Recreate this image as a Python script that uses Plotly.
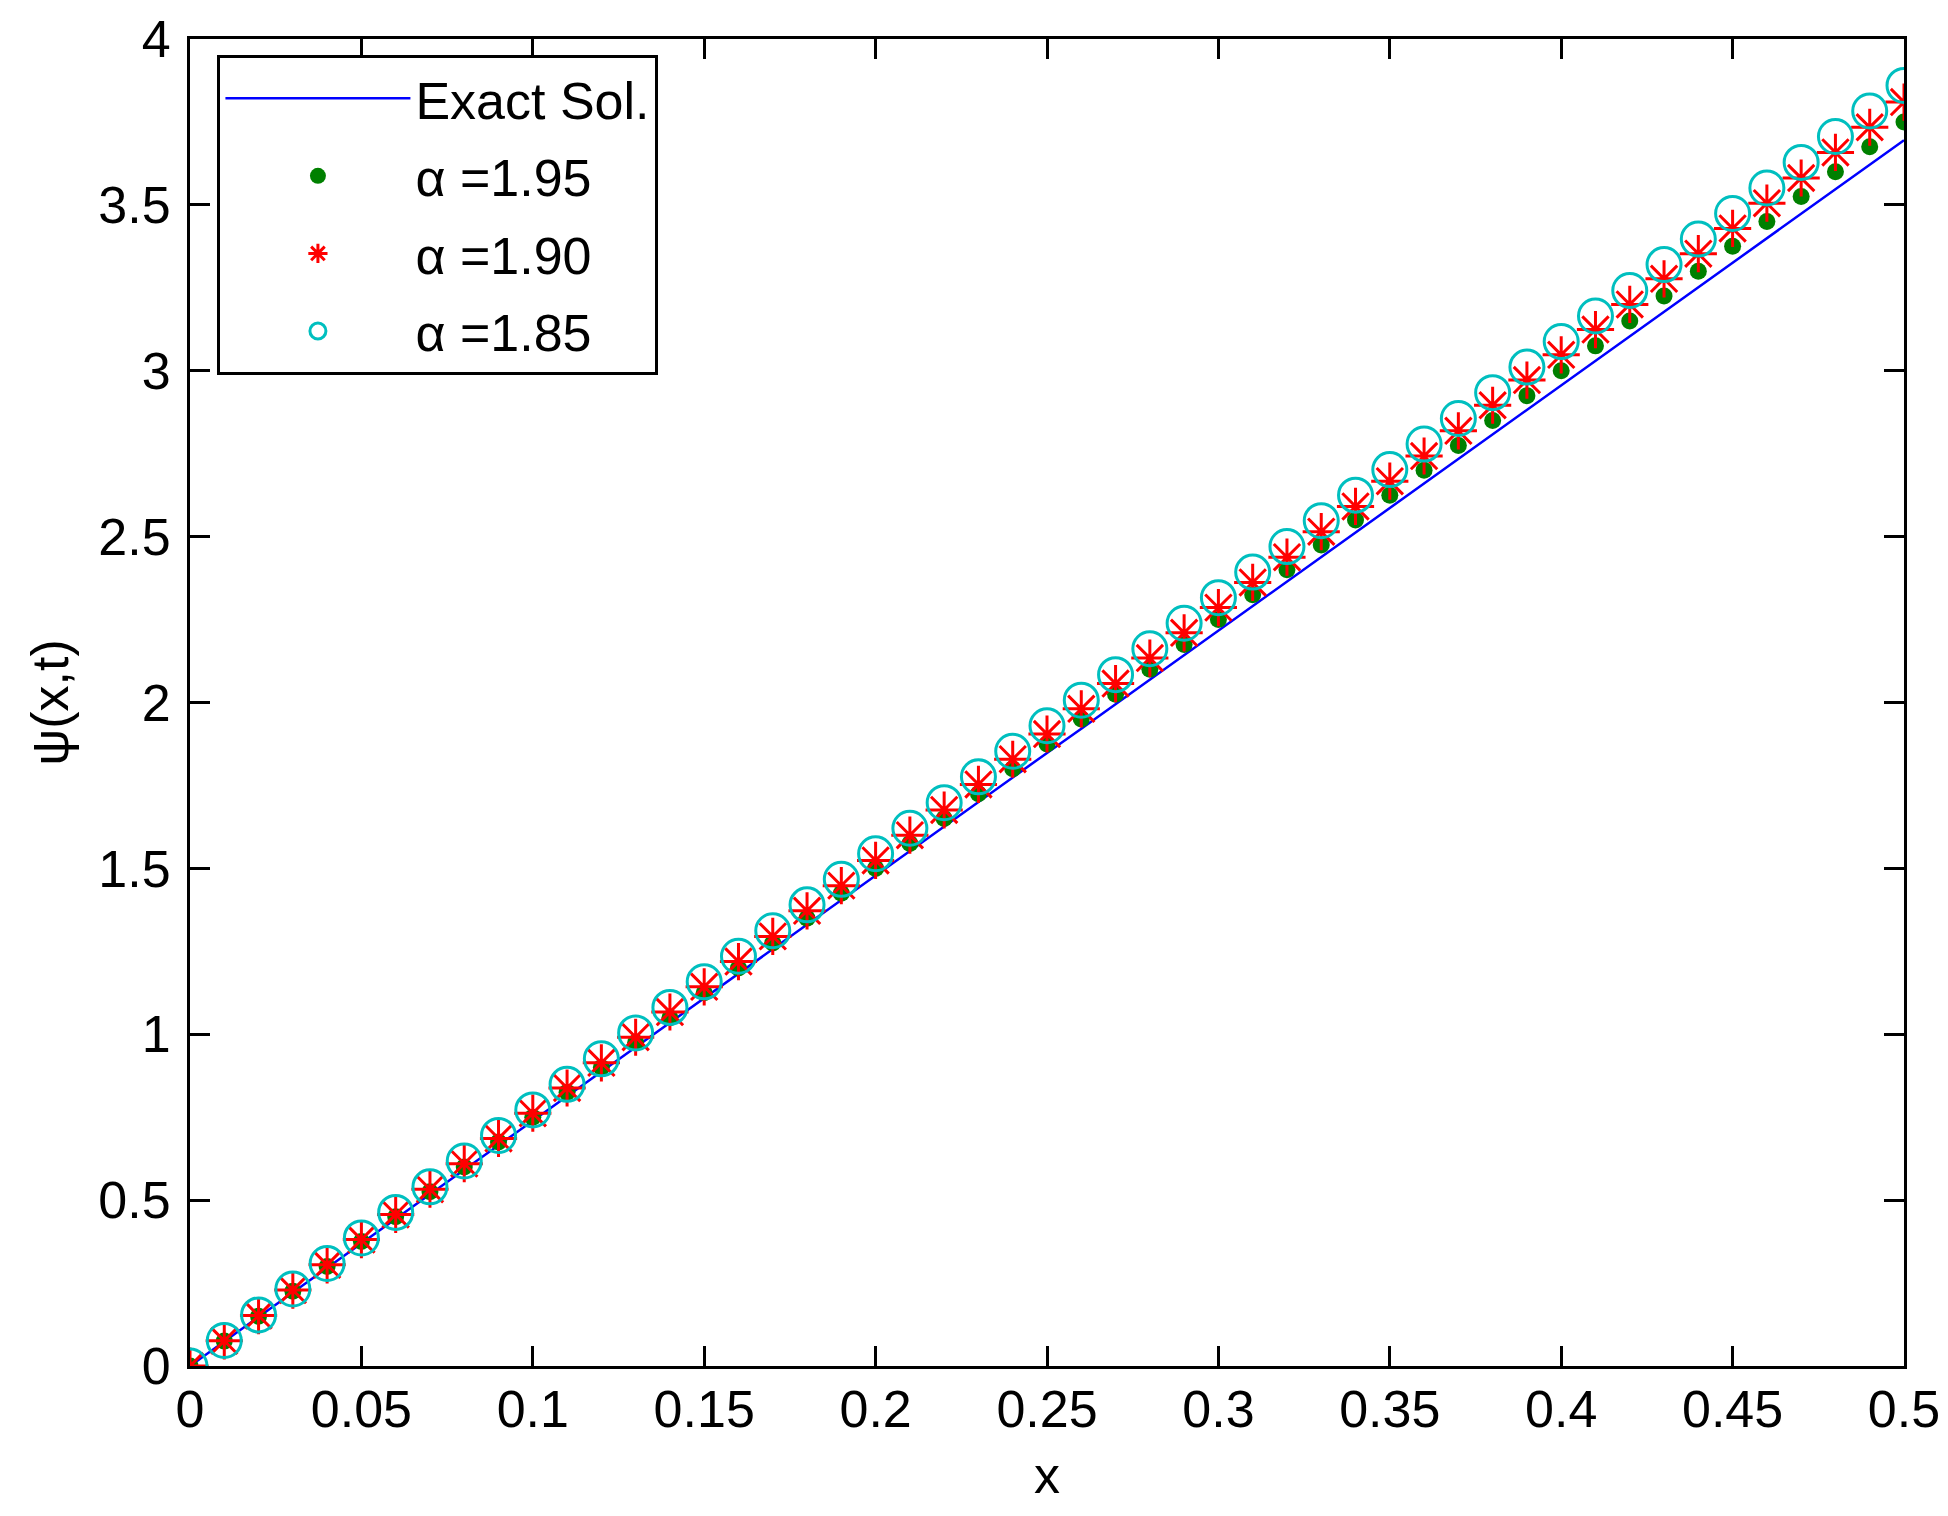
import plotly.graph_objects as go

# x grid of the numerical solution
x_vals = [0.00, 0.01, 0.02, 0.03, 0.04, 0.05, 0.06, 0.07, 0.08, 0.09,
          0.10, 0.11, 0.12, 0.13, 0.14, 0.15, 0.16, 0.17, 0.18, 0.19,
          0.20, 0.21, 0.22, 0.23, 0.24, 0.25, 0.26, 0.27, 0.28, 0.29,
          0.30, 0.31, 0.32, 0.33, 0.34, 0.35, 0.36, 0.37, 0.38, 0.39,
          0.40, 0.41, 0.42, 0.43, 0.44, 0.45, 0.46, 0.47, 0.48, 0.49, 0.50]

# values
exact_sol = [0.000, 0.074, 0.148, 0.222, 0.296, 0.370, 0.443, 0.517, 0.591, 0.665,
             0.739, 0.813, 0.887, 0.961, 1.035, 1.109, 1.182, 1.256, 1.330, 1.404,
             1.478, 1.552, 1.626, 1.700, 1.774, 1.848, 1.921, 1.995, 2.069, 2.143,
             2.217, 2.291, 2.365, 2.439, 2.513, 2.587, 2.660, 2.734, 2.808, 2.882,
             2.956, 3.030, 3.104, 3.178, 3.252, 3.326, 3.399, 3.473, 3.547, 3.621, 3.695]

alpha_195 = [0.000, 0.075, 0.150, 0.225, 0.300, 0.375, 0.450, 0.525, 0.600, 0.675,
             0.750, 0.825, 0.900, 0.975, 1.050, 1.125, 1.200, 1.275, 1.350, 1.425,
             1.500, 1.575, 1.650, 1.725, 1.800, 1.875, 1.950, 2.025, 2.100, 2.175,
             2.250, 2.325, 2.400, 2.475, 2.550, 2.625, 2.700, 2.775, 2.850, 2.925,
             3.000, 3.075, 3.150, 3.225, 3.300, 3.375, 3.450, 3.525, 3.600, 3.675, 3.750]

alpha_190 = [0.000, 0.076, 0.152, 0.229, 0.305, 0.381, 0.457, 0.533, 0.610, 0.686,
             0.762, 0.838, 0.914, 0.991, 1.067, 1.143, 1.219, 1.295, 1.372, 1.448,
             1.524, 1.600, 1.676, 1.753, 1.829, 1.905, 1.981, 2.057, 2.134, 2.210,
             2.286, 2.362, 2.438, 2.515, 2.591, 2.667, 2.743, 2.819, 2.896, 2.972,
             3.048, 3.124, 3.200, 3.277, 3.353, 3.429, 3.505, 3.581, 3.658, 3.734, 3.810]

alpha_185 = [0.000, 0.077, 0.154, 0.232, 0.309, 0.386, 0.463, 0.540, 0.618, 0.695,
             0.772, 0.849, 0.926, 1.004, 1.081, 1.158, 1.235, 1.312, 1.390, 1.467,
             1.544, 1.621, 1.698, 1.776, 1.853, 1.930, 2.007, 2.084, 2.162, 2.239,
             2.316, 2.393, 2.470, 2.548, 2.625, 2.702, 2.779, 2.856, 2.934, 3.011,
             3.088, 3.165, 3.242, 3.320, 3.397, 3.474, 3.551, 3.628, 3.706, 3.783, 3.860]

x_ticks = [0, 0.05, 0.1, 0.15, 0.2, 0.25, 0.3, 0.35, 0.4, 0.45, 0.5]
x_ticklabels = ["0", "0.05", "0.1", "0.15", "0.2", "0.25", "0.3", "0.35", "0.4", "0.45", "0.5"]
y_ticks = [0, 0.5, 1, 1.5, 2, 2.5, 3, 3.5, 4]
y_ticklabels = ["0", "0.5", "1", "1.5", "2", "2.5", "3", "3.5", "4"]

FONT = "Liberation Sans, Arial, sans-serif"

fig = go.Figure()
fig.add_trace(go.Scatter(x=x_vals, y=exact_sol, mode="lines", name="Exact Sol.",
                         line=dict(color="#0000FF", width=2.5), legendgroup="a"))
fig.add_trace(go.Scatter(x=x_vals, y=alpha_195, mode="markers", name="α =1.95",
                         marker=dict(symbol="circle", size=17, color="#008000"),
                         legendgroup="b"))
fig.add_trace(go.Scatter(x=x_vals, y=alpha_190, mode="markers", name="α =1.90",
                         marker=dict(symbol="asterisk-open", size=31, color="#FF0000",
                                     line=dict(color="#FF0000", width=3)),
                         legendgroup="c"))
fig.add_trace(go.Scatter(x=x_vals, y=alpha_185, mode="markers", name="α =1.85",
                         marker=dict(symbol="circle-open", size=34, color="#00BFBF",
                                     line=dict(color="#00BFBF", width=3)),
                         legendgroup="d"))

axis_style = dict(showline=True, linewidth=3, linecolor="black", mirror="ticks",
                  ticks="inside", ticklen=20, tickwidth=3, tickcolor="black",
                  showgrid=False, zeroline=False, automargin=False,
                  ticklabeloverflow="allow",
                  tickfont=dict(family=FONT, size=52, color="black"))

fig.update_xaxes(range=[0, 0.5], tickvals=x_ticks, ticktext=x_ticklabels,
                 ticklabelstandoff=-4,
                 title=dict(text="x", font=dict(family=FONT, size=52, color="black"),
                            standoff=20),
                 **axis_style)
fig.update_yaxes(range=[0, 4], tickvals=y_ticks, ticktext=y_ticklabels,
                 ticklabelstandoff=6,
                 title=dict(text="ψ(x,t)", font=dict(family=FONT, size=52, color="black"),
                            standoff=14),
                 **axis_style)

# page body has an 8px margin, so the figure is a bit smaller than the window;
# top margin leaves room for the "4" label
fig.update_layout(
    width=1940, height=1508,
    margin=dict(l=182, r=44, t=31, b=150),
    paper_bgcolor="white", plot_bgcolor="white",
    font=dict(family=FONT, size=52, color="black"),
    showlegend=True,
    legend=dict(x=0.016, y=0.988, xanchor="left", yanchor="top",
                bgcolor="white", bordercolor="black", borderwidth=3,
                font=dict(family=FONT, size=52, color="black"),
                traceorder="grouped", tracegroupgap=7, itemwidth=185),
)

fig.write_html("out.html")
